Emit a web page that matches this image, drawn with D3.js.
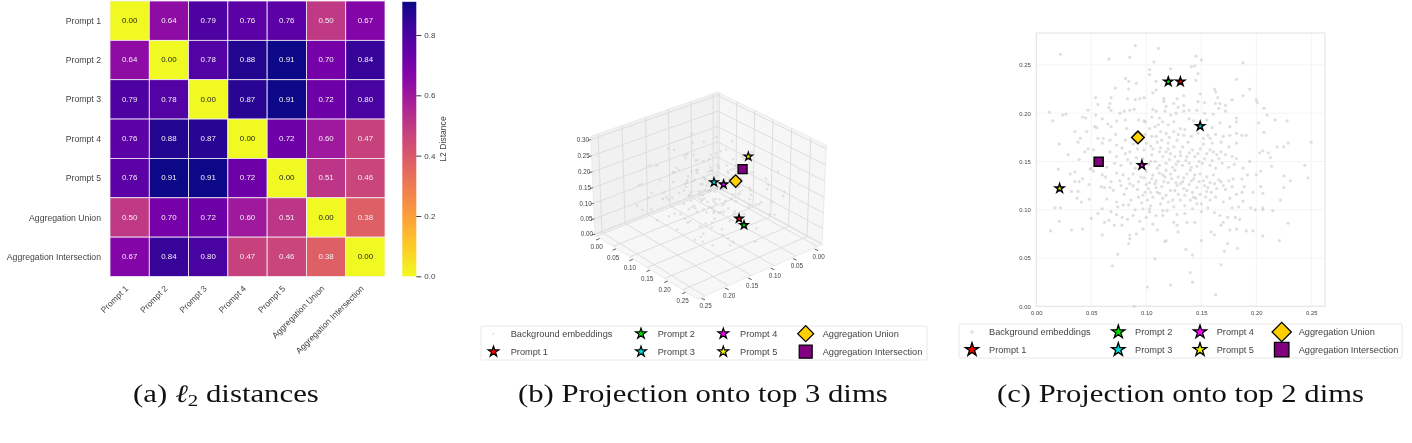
<![CDATA[<!DOCTYPE html>
<html><head><meta charset="utf-8">
<script src="https://cdn.jsdelivr.net/npm/d3@7"></script>
<style>
html,body{margin:0;padding:0;background:#fff;overflow:hidden}
svg{display:block;filter:blur(0.6px)}
text{font-family:"Liberation Sans",Arial,sans-serif}
</style></head><body><svg id="c" width="1412" height="443"></svg><script>
const labels=["Prompt 1","Prompt 2","Prompt 3","Prompt 4","Prompt 5","Aggregation Union","Aggregation Intersection"];
const distances=[
[0.00,0.64,0.79,0.76,0.76,0.50,0.67],
[0.64,0.00,0.78,0.88,0.91,0.70,0.84],
[0.79,0.78,0.00,0.87,0.91,0.72,0.80],
[0.76,0.88,0.87,0.00,0.72,0.60,0.47],
[0.76,0.91,0.91,0.72,0.00,0.51,0.46],
[0.50,0.70,0.72,0.60,0.51,0.00,0.38],
[0.67,0.84,0.80,0.47,0.46,0.38,0.00]];
const colorbarTicks=[0,0.2,0.4,0.6,0.8];
const tickValues2D=[0,0.05,0.10,0.15,0.20,0.25];
const zTicks=[0,0.05,0.10,0.15,0.20,0.25,0.30];
const legendNames=["Background embeddings","Prompt 1","Prompt 2","Prompt 3","Prompt 4","Prompt 5","Aggregation Union","Aggregation Intersection"];
const keyColors=["#ff0000","#00e000","#00dede","#ff00ff","#f2f200","#ffd000","#800080"];
const keyShapes=["star","star","star","star","star","diamond","square"];
const keyX=[0.131,0.120,0.149,0.096,0.0212,0.0924,0.0567];
const keyY=[0.2326,0.2326,0.1866,0.1462,0.1221,0.1749,0.1497];
const keyZ=[0.127,0.100,0.221,0.160,0.193,0.186,0.189];
const captions=["(a) ","(b) Projection onto top 3 dims","(c) Projection onto top 2 dims"];
const bg2D=[[.022,.261],[.090,.270],[.111,.267],[.066,.256],[.085,.258],[.107,.253],[.145,.259],[.150,.255],[.188,.252],[.122,.246],[.144,.249],[.141,.248],[.103,.245],[.103,.240],[.147,.241],[.145,.234],[.081,.236],[.084,.233],[.091,.231],[.109,.233],[.072,.226],[.084,.225],[.109,.224],[.106,.221],[.149,.220],[.162,.225],[.163,.222],[.165,.216],[.178,.214],[.182,.235],[.194,.225],[.188,.218],[.200,.214],[.201,.211],[.054,.216],[.056,.209],[.068,.216],[.067,.210],[.066,.206],[.083,.215],[.090,.214],[.094,.215],[.098,.216],[.116,.215],[.116,.212],[.128,.215],[.134,.218],[.134,.208],[.129,.206],[.147,.212],[.153,.211],[.163,.210],[.167,.210],[.172,.208],[.166,.205],[.047,.203],[.012,.201],[.015,.192],[.024,.198],[.027,.199],[.042,.196],[.045,.195],[.054,.198],[.068,.203],[.076,.200],[.080,.202],[.085,.203],[.089,.204],[.106,.204],[.109,.202],[.117,.202],[.122,.198],[.127,.200],[.134,.202],[.146,.203],[.153,.200],[.161,.199],[.172,.202],[.182,.195],[.182,.191],[.207,.205],[.210,.198],[.217,.193],[.228,.192],[.202,.190],[.207,.180],[.250,.170],[.229,.169],[.225,.165],[.219,.165],[.211,.159],[.053,.186],[.055,.185],[.065,.189],[.068,.186],[.081,.193],[.093,.193],[.099,.191],[.111,.188],[.115,.191],[.125,.191],[.131,.184],[.139,.194],[.155,.193],[.176,.186],[.187,.177],[.191,.177],[.182,.179],[.035,.181],[.046,.181],[.040,.174],[.038,.170],[.021,.168],[.029,.157],[.039,.152],[.044,.160],[.047,.163],[.052,.162],[.056,.174],[.061,.174],[.060,.169],[.073,.167],[.078,.164],[.082,.184],[.090,.179],[.103,.184],[.109,.176],[.118,.179],[.125,.181],[.135,.183],[.134,.177],[.138,.170],[.156,.177],[.158,.174],[.170,.176],[.176,.177],[.175,.165],[.182,.169],[.161,.160],[.149,.163],[.125,.165],[.114,.172],[.106,.163],[.100,.169],[.085,.160],[.067,.160],[.073,.155],[.081,.158],[.091,.154],[.097,.153],[.112,.160],[.122,.158],[.137,.155],[.144,.155],[.153,.153],[.164,.157],[.178,.155],[.182,.153],[.203,.159],[.206,.161],[.213,.154],[.214,.145],[.244,.146],[.020,.142],[.050,.143],
[.049,.142],[.052,.140],[.031,.137],[.035,.139],[.042,.132],[.039,.129],[.035,.129],[.048,.126],[.060,.136],[.063,.134],[.073,.138],[.079,.136],[.076,.130],[.084,.132],[.085,.127],[.088,.125],[.093,.129],[.105,.132],[.109,.130],[.115,.136],[.118,.141],[.126,.141],[.140,.141],[.134,.133],[.143,.132],[.149,.137],[.155,.134],[.161,.136],[.168,.129],[.170,.125],[.175,.130],[.179,.132],[.187,.132],[.200,.136],[.204,.140],[.247,.133],[.225,.135],[.231,.130],[.204,.124],[.206,.117],[.189,.124],[.197,.118],[.225,.123],[.222,.110],[.215,.099],[.195,.102],[.199,.100],[.206,.102],[.206,.100],[.188,.109],[.187,.118],[.184,.103],[.170,.108],[.164,.122],[.155,.119],[.149,.116],[.150,.106],[.143,.113],[.134,.122],[.128,.125],[.118,.115],[.112,.117],[.106,.113],[.102,.122],[.099,.118],[.096,.107],[.090,.100],[.084,.105],[.079,.105],[.073,.108],[.074,.103],[.064,.111],[.059,.124],[.062,.123],[.067,.123],[.070,.120],[.038,.119],[.037,.112],[.041,.108],[.032,.119],[.048,.111],[.060,.101],[.017,.102],[.022,.102],[.056,.096],[.050,.091],[.062,.087],[.066,.089],[.068,.098],[.073,.095],[.078,.092],[.071,.084],[.078,.084],[.021,.088],[.013,.078],[.032,.079],[.042,.080],[.060,.074],[.084,.065],[.085,.070],[.085,.074],[.091,.075],[.097,.080],[.106,.085],[.110,.079],[.118,.068],[.117,.067],[.125,.087],[.128,.084],[.129,.077],[.144,.087],[.137,.087],[.135,.096],[.142,.101],[.150,.068],[.159,.077],[.162,.074],[.174,.065],[.171,.057],[.183,.060],[.191,.078],[.197,.078],[.206,.073],[.221,.068],[.229,.086],[.182,.080],[.176,.079],[.168,.084],[.170,.087],[.174,.092],[.181,.092],[.185,.090],[.167,.094],[.074,.054],[.069,.042],[.108,.049],[.136,.059],[.142,.053],[.168,.043],[.140,.035],[.142,.025],[.101,.020],[.122,.022],[.163,.012],[.089,.000],[.097,.101],[.103,.101],[.115,.099],[.125,.103],[.100,.092],[.115,.094],[.120,.108],[.131,.110],[.140,.110],[.146,.106],[.158,.110],
[.102,.147],[.108,.150],[.112,.146],[.118,.148],[.124,.144],[.129,.150],[.133,.146],[.139,.148],[.146,.145],[.151,.148],[.158,.146],[.163,.143],[.169,.148],[.175,.144],[.180,.147],[.086,.148],[.090,.143],[.100,.140],[.106,.136],[.112,.138],[.117,.134],[.122,.137],[.129,.134],[.137,.137],[.144,.136],[.152,.130],[.158,.128],[.166,.131],[.088,.137],[.095,.134],[.100,.126],[.108,.127],[.114,.124],[.120,.128],[.126,.120],[.131,.127],[.139,.126],[.146,.123],[.153,.125],[.159,.118],[.092,.121],[.097,.115],[.110,.118],[.122,.120],[.135,.115],[.142,.118],[.080,.116],[.086,.110],[.101,.110],[.113,.106],[.124,.110],[.104,.166],[.110,.170],[.120,.169],[.128,.172],[.133,.165],[.142,.162],[.152,.168],[.160,.169],[.095,.172],[.118,.160],[.126,.155],[.098,.162],[.105,.157],
[.104,.150],[.110,.143],[.115,.155],[.121,.152],[.127,.147],[.131,.156],[.136,.151],[.141,.144],[.148,.150],[.155,.158],[.160,.151],[.166,.153],[.172,.157],[.094,.146],[.083,.152],[.077,.146],[.071,.148],[.064,.144],[.058,.152],[.098,.133],[.103,.128],[.109,.123],[.116,.129],[.123,.132],[.127,.128],[.133,.129],[.141,.130],[.148,.129],[.156,.123],[.162,.127],[.172,.121],[.178,.124],[.182,.116],[.082,.122],[.077,.125],[.068,.129],[.093,.113],[.104,.118],[.115,.112],[.129,.116],[.137,.120],[.145,.112],[.154,.113],[.163,.113],[.176,.112],[.105,.176],[.099,.178],[.113,.181],[.121,.175],[.129,.178],[.141,.176],[.147,.179],[.152,.174],[.163,.178],[.168,.170],[.088,.168],[.092,.163],[.081,.172],[.072,.178],[.067,.172],[.113,.164],[.120,.163],[.131,.160],[.139,.159],[.147,.158],[.158,.162],[.168,.160],[.194,.150],[.188,.143],[.192,.136],[.098,.192],[.105,.196],[.112,.195],[.118,.207],[.125,.210],[.139,.203],[.143,.192],[.150,.186],[.160,.185],[.167,.190],[.108,.186],[.120,.188],[.073,.192],[.060,.194],[.103,.098],[.109,.094],[.119,.099],[.128,.095],[.135,.104],[.150,.098],[.156,.102],[.162,.097],[.178,.102],[.088,.094],[.094,.088],[.083,.090],[.104,.104]];
const bg3D=[[.11,.14,.14],[.09,.12,.17],[.13,.15,.11],[.07,.16,.13],[.15,.11,.16],[.12,.10,.19],[.10,.18,.09],[.08,.09,.21],[.14,.17,.08],[.06,.13,.18],[.16,.14,.12],[.11,.20,.10],[.05,.11,.16],[.13,.08,.14],[.09,.15,.20],[.17,.12,.09],[.12,.16,.17],[.07,.19,.14],[.10,.07,.13],[.15,.17,.15],[.04,.15,.12],[.14,.13,.22],[.08,.14,.07],[.18,.10,.13],[.11,.11,.10],[.06,.17,.19],[.13,.19,.12],[.16,.09,.20],[.09,.10,.11],[.12,.13,.16],[.03,.12,.19],[.10,.16,.23],[.19,.13,.11],[.07,.08,.15],[.14,.20,.06],[.11,.17,.13],[.05,.18,.09],[.17,.15,.18],[.08,.17,.16],[.13,.11,.08],[.02,.17,.15],[.12,.21,.16],[.20,.11,.15],[.09,.06,.18],[.15,.15,.06],[.10,.13,.25],[.06,.10,.10],[.18,.16,.10],[.11,.09,.17],[.14,.16,.20],[.04,.09,.13],[.08,.20,.12],[.16,.18,.13],[.12,.07,.21],[.10,.19,.18],[.05,.14,.22],[.17,.08,.12],[.13,.14,.05],[.07,.12,.24],[.19,.17,.15],[.09,.18,.05],[.15,.07,.10],[.11,.15,.08],[.06,.15,.16],[.14,.09,.13],[.12,.18,.21],[.03,.14,.10],[.21,.14,.12],[.08,.11,.19],[.16,.12,.07],[.10,.10,.15],[.13,.17,.18],[.05,.16,.07],[.17,.10,.18],[.07,.14,.11],[.12,.12,.23],[.09,.21,.15],[.15,.19,.11],[.11,.06,.12],[.18,.13,.17],[.04,.12,.08],[.14,.12,.10],[.10,.17,.06],[.06,.18,.20],[.20,.15,.08],[.08,.13,.15],[.13,.10,.19],[.16,.16,.16],[.11,.22,.12],[.07,.10,.17],[.12,.15,.12],[.15,.13,.19],[.09,.14,.09],[.05,.13,.14],[.17,.14,.21],[.10,.12,.07],[.14,.18,.16],[.08,.16,.22],[.13,.12,.14],[.11,.13,.20],
[.02,.13,.21],[.06,.20,.11],[.22,.12,.10],[.18,.19,.07],[.04,.20,.16],[.12,.05,.16],[.16,.20,.14],[.09,.08,.08],[.19,.09,.19],[.10,.21,.08],[.14,.06,.17],[.07,.06,.11],[.03,.09,.17],[.15,.21,.09],[.11,.08,.22],[.20,.18,.12],[.13,.22,.14],[.08,.07,.24],[.05,.08,.20],[.17,.18,.20],
[.20,.05,.16],[.22,.07,.18],[.24,.09,.14],[.19,.06,.22],[.23,.11,.17],[.21,.09,.11],[.18,.05,.12],[.25,.12,.15],[.16,.04,.19],[.22,.14,.20],[.03,.20,.10],[.02,.22,.14],[.05,.23,.09],[.01,.19,.18],[.07,.24,.11],[.04,.24,.15],[.09,.23,.07],[.03,.17,.08],[.12,.24,.10],[.06,.22,.17],[.15,.24,.07],[.12,.19,.03],[.14,.22,.04],[.17,.21,.05],[.10,.24,.04],[.19,.21,.10],[.08,.18,.03],[.16,.17,.03],[.20,.20,.08],[.18,.22,.12],[.13,.05,.23],[.10,.04,.19],[.07,.04,.16],[.15,.06,.25],[.05,.05,.13],[.11,.03,.15],[.09,.05,.26],[.06,.08,.25],[.12,.09,.27],[.04,.10,.24],[.14,.10,.25],[.10,.11,.22],[.08,.10,.13],[.09,.13,.13],[.10,.14,.11],[.11,.12,.13],[.12,.14,.15],[.12,.11,.12],[.13,.13,.12],[.10,.15,.15],[.09,.11,.14],[.11,.16,.11],[.12,.17,.10],[.13,.16,.14],[.14,.14,.13],[.15,.14,.10],[.14,.15,.17],[.13,.13,.17],[.11,.14,.18],[.10,.11,.18],[.08,.12,.12],[.07,.13,.15],[.09,.16,.12],[.10,.16,.17],[.12,.12,.18],[.11,.10,.14],[.13,.09,.17],[.15,.12,.14],[.16,.13,.15],[.15,.16,.12],[.12,.15,.09],[.10,.13,.09],[.14,.11,.11],[.08,.15,.18],[.06,.12,.14],[.17,.13,.13]];

const svg=d3.select("#c");
const ink="#444";

function marker(sel,shape,color,scale,strokeW){
  let gen;
  if(shape==="star") gen=d3.symbol().type(d3.symbolStar).size(scale*scale/0.8908);
  else if(shape==="diamond") gen=d3.symbol().type(d3.symbolSquare).size(2*scale*scale);
  else gen=d3.symbol().type(d3.symbolSquare).size(scale*scale);
  const p=sel.append("path").attr("d",gen()).attr("fill",color).attr("stroke","#000").attr("stroke-width",strokeW).attr("stroke-linejoin","miter");
  if(shape==="diamond") p.attr("transform","rotate(45)");
}

/* ---------- (a) heatmap ---------- */
const vmax=0.91;
const hx=d3.scaleBand().domain(d3.range(7)).range([110,385]);
const hy=d3.scaleBand().domain(d3.range(7)).range([1,276.5]);
const hcol=v=>d3.interpolatePlasma(1-v/vmax);
const ha=svg.append("g");
distances.forEach((row,i)=>row.forEach((v,j)=>{
  ha.append("rect").attr("x",hx(j)).attr("y",hy(i)).attr("width",hx.bandwidth()).attr("height",hy.bandwidth())
    .attr("fill",hcol(v)).attr("stroke","#f4eef8").attr("stroke-width",0.8);
  ha.append("text").attr("x",hx(j)+hx.bandwidth()/2).attr("y",hy(i)+hy.bandwidth()/2-0.6).attr("dy","0.35em")
    .attr("text-anchor","middle").attr("font-size",7.9).attr("fill",v<0.1?"#222":"#f4f0f4").text(v.toFixed(2));
}));
labels.forEach((l,i)=>{
  ha.append("text").attr("x",101).attr("y",hy(i)+hy.bandwidth()/2).attr("dy","0.35em").attr("text-anchor","end")
    .attr("font-size",8.7).attr("fill",ink).text(l);
  ha.append("text").attr("transform",`translate(${hx(i)+hx.bandwidth()/2-3},287) rotate(-45)`).attr("dy","0.35em")
    .attr("text-anchor","end").attr("font-size",8.5).attr("fill",ink).text(l);
});
const defs=svg.append("defs");
const grad=defs.append("linearGradient").attr("id","cb").attr("x1",0).attr("y1",1).attr("x2",0).attr("y2",0);
d3.range(0,1.0001,0.05).forEach(t=>grad.append("stop").attr("offset",t).attr("stop-color",d3.interpolatePlasma(1-t)));
const cbY=d3.scaleLinear().domain([0,vmax]).range([276.3,1.8]);
ha.append("rect").attr("x",402.3).attr("y",cbY(vmax)).attr("width",14).attr("height",cbY(0)-cbY(vmax)).attr("fill","url(#cb)");
const cbAxis=ha.append("g").attr("transform","translate(416.3,0)").call(d3.axisRight(cbY).tickValues(colorbarTicks).tickFormat(d3.format(".1f")).tickSize(5).tickPadding(3));
cbAxis.select(".domain").remove();
cbAxis.selectAll("line").attr("stroke","#222").attr("stroke-width",0.9);
cbAxis.selectAll("text").attr("font-size",8).attr("fill",ink).attr("font-family",'"Liberation Sans"');
ha.append("text").attr("transform","translate(442.5,139) rotate(-90)").attr("text-anchor","middle").attr("dy","0.35em").attr("font-size",8.6).attr("fill",ink).text("L2 Distance");

/* ---------- (b) 3D projection ---------- */
const xLim=[-0.01,0.265],yLim=[-0.005,0.29],zLim=[-0.003,0.31];
const az=50*Math.PI/180,el=30*Math.PI/180,dist=10;
function cam(x,y,z){
  const X=(x-xLim[0])/(xLim[1]-xLim[0])-.5,Y=(y-yLim[0])/(yLim[1]-yLim[0])-.5,Z=((z-zLim[0])/(zLim[1]-zLim[0])-.5)*.75;
  const d=dist-(X*Math.cos(el)*Math.cos(az)+Y*Math.cos(el)*Math.sin(az)+Z*Math.sin(el));
  const U=(-X*Math.sin(az)+Y*Math.cos(az))*dist/d;
  const V=(-X*Math.sin(el)*Math.cos(az)-Y*Math.sin(el)*Math.sin(az)+Z*Math.cos(el))*dist/d;
  return [U,V];
}
const sU=d3.scaleLinear().domain([cam(xLim[1],yLim[0],zLim[0])[0],cam(xLim[0],yLim[1],zLim[0])[0]]).range([595,822]);
const sV=d3.scaleLinear().domain([cam(xLim[1],yLim[1],zLim[0])[1],cam(xLim[0],yLim[0],zLim[1])[1]]).range([299,92.3]);
const P=(x,y,z)=>{const c=cam(x,y,z);return [sU(c[0]),sV(c[1])];};
const line3=d3.line();
const hb=svg.append("g");
const pane=(pts,fill)=>hb.append("path").attr("d",line3(pts.map(p=>P(...p)))+"Z").attr("fill",fill).attr("stroke","#e6e6e6").attr("stroke-width",0.8);
const [x0,x1]=xLim,[y0,y1]=yLim,[z0,z1]=zLim;
pane([[x0,y0,z0],[x1,y0,z0],[x1,y0,z1],[x0,y0,z1]],"#f1f1f1");
pane([[x0,y0,z0],[x0,y1,z0],[x0,y1,z1],[x0,y0,z1]],"#f6f6f6");
pane([[x0,y0,z0],[x1,y0,z0],[x1,y1,z0],[x0,y1,z0]],"#f7f7f7");
const gridL=(a,b)=>hb.append("path").attr("d",line3([P(...a),P(...b)])).attr("stroke","#dadada").attr("stroke-width",0.9).attr("fill","none");
tickValues2D.forEach(t=>{
  gridL([t,y0,z0],[t,y0,z1]);gridL([t,y0,z0],[t,y1,z0]);
  gridL([x0,t,z0],[x0,t,z1]);gridL([x0,t,z0],[x1,t,z0]);
});
zTicks.forEach(t=>{gridL([x0,y0,t],[x1,y0,t]);gridL([x0,y0,t],[x0,y1,t]);});
const tick3=(p,dx1,dy1,dx2,dy2)=>hb.append("line").attr("x1",p[0]+dx1).attr("y1",p[1]+dy1).attr("x2",p[0]+dx2).attr("y2",p[1]+dy2).attr("stroke","#333").attr("stroke-width",0.8);
const lab3=(p,dx,dy,t)=>hb.append("text").attr("x",p[0]+dx).attr("y",p[1]+dy).attr("dy","0.35em").attr("text-anchor","middle").attr("font-size",6.3).attr("fill",ink).text(t.toFixed(2));
tickValues2D.forEach(t=>{
  const py=P(x1,t,z0);tick3(py,-0.5,4,3,2.5);lab3(py,0,11,t);
  const px=P(t,y1,z0);tick3(px,0.5,4,-3,2.5);lab3(px,1,10,t);
});
zTicks.forEach(t=>{const p=P(x1,y0,t);tick3(p,0,0,-3,0.8);lab3(p,-8,0,t);});
bg3D.forEach(d=>{const p=P(...d);hb.append("circle").attr("cx",p[0]).attr("cy",p[1]).attr("r",1.3).attr("fill","#c8c8c8").attr("opacity",.45);});
const sizesB={star:4.4,diamond:6.2,square:9};
keyX.forEach((x,i)=>{const p=P(x,keyY[i],keyZ[i]);
  const g=hb.append("g").attr("transform",`translate(${p[0]},${p[1]})`);
  marker(g,keyShapes[i],keyColors[i],sizesB[keyShapes[i]],1.3);
});

/* ---------- (c) 2D projection ---------- */
const cx=d3.scaleLinear().domain([0,0.2625]).range([1036.3,1325]);
const cy=d3.scaleLinear().domain([0,0.283]).range([306.3,33]);
const hc=svg.append("g");
tickValues2D.forEach(t=>{
  hc.append("line").attr("x1",cx(t)).attr("x2",cx(t)).attr("y1",cy(0)).attr("y2",cy(0.283)).attr("stroke","#f1f1f1").attr("stroke-width",0.8);
  hc.append("line").attr("y1",cy(t)).attr("y2",cy(t)).attr("x1",cx(0)).attr("x2",cx(0.2625)).attr("stroke","#f1f1f1").attr("stroke-width",0.8);
});
hc.append("rect").attr("x",cx(0)).attr("y",cy(0.283)).attr("width",cx(0.2625)-cx(0)).attr("height",cy(0)-cy(0.283)).attr("fill","none").attr("stroke","#e4e4e4").attr("stroke-width",1.1);
const axB=hc.append("g").attr("transform",`translate(0,${cy(0)})`).call(d3.axisBottom(cx).tickValues(tickValues2D).tickFormat(d3.format(".2f")).tickSize(0).tickPadding(4.5));
const axL=hc.append("g").attr("transform",`translate(${cx(0)},0)`).call(d3.axisLeft(cy).tickValues(tickValues2D).tickFormat(d3.format(".2f")).tickSize(0).tickPadding(5.5));
[axB,axL].forEach(a=>{a.select(".domain").remove();a.selectAll("text").attr("font-size",5.9).attr("fill",ink).attr("font-family",'"Liberation Sans"');});
hc.selectAll("circle.bg").data(bg2D).join("circle").attr("class","bg").attr("cx",d=>cx(d[0])).attr("cy",d=>cy(d[1])).attr("r",1.6).attr("fill","#c4c4c4").attr("opacity",.55);
const sizesC={star:4.6,diamond:6.3,square:9};
keyX.forEach((x,i)=>{
  const g=hc.append("g").attr("transform",`translate(${cx(x)},${cy(keyY[i])})`);
  marker(g,keyShapes[i],keyColors[i],sizesC[keyShapes[i]],1.5);
});

/* ---------- legends ---------- */
function legend(box,colsMark,colsText,rows,sizes,sw,bgR,fs){
  const g=svg.append("g");
  g.append("rect").attr("x",box[0]).attr("y",box[1]).attr("width",box[2]-box[0]).attr("height",box[3]-box[1]).attr("fill","#fff").attr("stroke","#e8e8e8").attr("stroke-width",1).attr("rx",1);
  legendNames.forEach((name,i)=>{
    const col=Math.floor(i/2),row=i%2,mx=colsMark[col],ty=rows[row];
    if(i===0) g.append("circle").attr("cx",mx).attr("cy",ty).attr("r",bgR).attr("fill","#dcdcdc").attr("opacity",.7);
    else{const m=g.append("g").attr("transform",`translate(${mx},${ty})`);marker(m,keyShapes[i-1],keyColors[i-1],sizes[keyShapes[i-1]],sw);}
    g.append("text").attr("x",colsText[col]).attr("y",ty).attr("dy","0.35em").attr("font-size",fs).attr("fill",ink).text(name);
  });
}
legend([481,326,927,360],[493.5,641,723.3,805.7],[510.7,657.7,740,822.7],[333.7,351.7],{star:5.6,diamond:8,square:13},1.2,1.2,9.2);
legend([959,324,1402,358],[972,1118.3,1200,1281.7],[989,1135,1216.7,1298.7],[332,349.7],{star:7,diamond:9.6,square:14.5},1.3,2,9.2);

/* ---------- captions ---------- */
function caption(parts,x0c,x1c,base){
  const t=svg.append("text").attr("font-size",25).attr("fill","#111");
  t.style("font-family",'"Liberation Serif",serif');
  parts(t);
  const len=t.node().getComputedTextLength();
  t.attr("transform",`translate(${x0c},${base}) scale(${(x1c-x0c)/len},1)`);
}
caption(t=>{t.append("tspan").text(captions[0]);t.append("tspan").attr("font-style","italic").text("ℓ");t.append("tspan").attr("font-size",17).attr("dy",4).text("2");t.append("tspan").attr("dy",-4).text(" distances");},133,319,402);
caption(t=>t.text(captions[1]),518,888,402);
caption(t=>t.text(captions[2]),997,1364,402);
</script></body></html>]]>
